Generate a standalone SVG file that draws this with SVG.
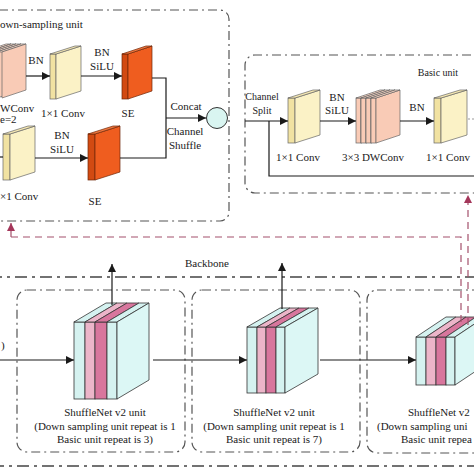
<svg xmlns="http://www.w3.org/2000/svg" width="474" height="474" viewBox="0 0 474 474">
<style>
text{font-family:"Liberation Serif","Times New Roman",serif;fill:#1a1a1a;font-size:11px}
.mid{text-anchor:middle}
.sm{font-size:10px}
.frame{fill:none;stroke:#555;stroke-width:1.2;stroke-dasharray:9 4 2 4}
.outer{fill:none;stroke:#444;stroke-width:1.3;stroke-dasharray:12 5 3 5}
.ln{fill:none;stroke:#1a1a1a;stroke-width:1.2}
.red{fill:none;stroke:#a4506c;stroke-width:1.2;stroke-dasharray:7 5}
.yf{fill:#f1e2a2;stroke:#666;stroke-width:0.7}
.ys{fill:#fbf2c6;stroke:#666;stroke-width:0.7}
.yt{fill:#f7eab4;stroke:#666;stroke-width:0.7}
.of{fill:#d24a12;stroke:#6e2608;stroke-width:0.7}
.os{fill:#ef5d1f;stroke:#6e2608;stroke-width:0.7}
.ot{fill:#f2793f;stroke:#6e2608;stroke-width:0.7}
.pk{fill:#f9cbb6;stroke:#666;stroke-width:0.7}
.pt{fill:#fbd8c7;stroke:#666;stroke-width:0.7}
.cy{fill:#d5f2f0;stroke:#333;stroke-width:0.8}
.cs{fill:#dcf7f5;stroke:#333;stroke-width:0.8}
.lp{fill:#ecb5c9;stroke:#333;stroke-width:0.8}
.dp{fill:#d8769d;stroke:#333;stroke-width:0.8}
</style>
<defs>
<marker id="arr" markerUnits="userSpaceOnUse" markerWidth="9" markerHeight="8" refX="8" refY="4" orient="auto"><path d="M0,0 L8,4 L0,8 z" fill="#1a1a1a"/></marker>
<marker id="arrm" markerUnits="userSpaceOnUse" markerWidth="9" markerHeight="8" refX="8" refY="4" orient="auto"><path d="M0,0 L8,4 L0,8 z" fill="#a4365a"/></marker>
</defs>

<g id="downsampling-unit">
<path class="frame" d="M-20 10 H220 A9 9 0 0 1 229 19 V212 A9 9 0 0 1 220 221 H-20"/>
<text x="0" y="28">own-sampling unit</text>
</g>

<g id="dwconv-stride2">
<polygon class="pt" points="-18,52 -13,52 11,44 6,44"/><polygon class="pk" points="-13,52 11,44 11,90 -13,98"/>
<polygon class="pt" points="-13,52 -8,52 16,44 11,44"/><polygon class="pk" points="-8,52 16,44 16,90 -8,98"/>
<polygon class="pt" points="-8,52 -3,52 21,44 16,44"/><polygon class="pk" points="-3,52 21,44 21,90 -3,98"/>
<polygon class="pt" points="-3,52 2,52 26,44 21,44"/><polygon class="pk" points="2,52 26,44 26,90 2,98"/>
<text x="0" y="112">WConv</text>
<text x="0" y="123">e=2</text>
</g>

<g id="ds-conv1">
<rect class="yf" x="50" y="54" width="6" height="45"/>
<polygon class="ys" points="56,54 81,46 81,91 56,99"/>
<polygon class="yt" points="50,54 56,54 81,46 75,46"/>
<text class="mid" x="63" y="117">1×1 Conv</text>
</g>

<g id="ds-se1">
<rect class="of" x="122" y="54" width="6" height="45"/>
<polygon class="os" points="128,54 152,46 152,91 128,99"/>
<polygon class="ot" points="122,54 128,54 152,46 146,46"/>
<text class="mid" x="128" y="117">SE</text>
</g>

<g id="ds-conv2">
<rect class="yf" x="3" y="134" width="7" height="46"/>
<polygon class="ys" points="10,134 35,126 35,172 10,180"/>
<polygon class="yt" points="3,134 10,134 35,126 28,126"/>
<text x="0" y="200">×1 Conv</text>
</g>

<g id="ds-se2">
<rect class="of" x="88" y="134" width="7" height="46"/>
<polygon class="os" points="95,134 120,126 120,172 95,180"/>
<polygon class="ot" points="88,134 95,134 120,126 113,126"/>
<text class="mid" x="95" y="205">SE</text>
</g>

<g id="concat-node">
<circle cx="217" cy="118" r="10.5" fill="#d9f5f1" stroke="#333" stroke-width="1"/>
</g>

<g id="basic-unit">
<path class="frame" d="M490 55 H255 A10 10 0 0 0 245 65 V183 A10 10 0 0 0 255 193 H490"/>
<text class="mid sm" x="438" y="76">Basic unit</text>
</g>

<g id="bu-conv1">
<rect class="yf" x="288" y="98" width="7" height="45"/>
<polygon class="ys" points="295,98 320,90 320,135 295,143"/>
<polygon class="yt" points="288,98 295,98 320,90 313,90"/>
<text class="mid" x="298" y="161">1×1 Conv</text>
</g>

<g id="bu-dwconv">
<rect class="pk" x="356" y="98" width="5" height="45"/><polygon class="pk" points="361,98 385,90 385,135 361,143"/><polygon class="pt" points="356,98 361,98 385,90 380,90"/>
<rect class="pk" x="361" y="98" width="5" height="45"/><polygon class="pk" points="366,98 390,90 390,135 366,143"/><polygon class="pt" points="361,98 366,98 390,90 385,90"/>
<rect class="pk" x="366" y="98" width="5" height="45"/><polygon class="pk" points="371,98 395,90 395,135 371,143"/><polygon class="pt" points="366,98 371,98 395,90 390,90"/>
<rect class="pk" x="371" y="98" width="5" height="45"/><polygon class="pk" points="376,98 400,90 400,135 376,143"/><polygon class="pt" points="371,98 376,98 400,90 395,90"/>
<text class="mid" x="373" y="161">3×3 DWConv</text>
</g>

<g id="bu-conv2">
<rect class="yf" x="434" y="98" width="7" height="45"/>
<polygon class="ys" points="441,98 467,90 467,135 441,143"/>
<polygon class="yt" points="434,98 441,98 467,90 460,90"/>
<text class="mid" x="448" y="161">1×1 Conv</text>
</g>

<g id="backbone">
<rect class="outer" x="-10" y="277" width="500" height="189"/>
<text class="mid" x="207" y="267">Backbone</text>
</g>

<g id="unit1">
<rect class="frame" x="17" y="290" width="168" height="162" rx="10"/>
<rect class="cy" x="74" y="322" width="11" height="77"/>
<rect class="lp" x="85" y="322" width="10" height="77"/>
<rect class="dp" x="95" y="322" width="12" height="77"/>
<rect class="cy" x="107" y="322" width="10" height="77"/>
<polygon class="cy" points="74,322 85,322 117,303 106,303"/>
<polygon class="lp" points="85,322 95,322 127,303 117,303"/>
<polygon class="dp" points="95,322 107,322 139,303 127,303"/>
<polygon class="cy" points="107,322 117,322 149,303 139,303"/>
<polygon class="cs" points="117,322 149,303 149,380 117,399"/>
<text class="mid" x="105" y="416">ShuffleNet v2 unit</text>
<text class="mid" x="105" y="430">(Down sampling unit repeat is 1</text>
<text class="mid" x="105" y="443">Basic unit repeat is 3)</text>
</g>

<g id="unit2">
<rect class="frame" x="192" y="290" width="168" height="162" rx="10"/>
<rect class="cy" x="247" y="327" width="10" height="66"/>
<rect class="lp" x="257" y="327" width="9" height="66"/>
<rect class="dp" x="266" y="327" width="10" height="66"/>
<rect class="cy" x="276" y="327" width="9" height="66"/>
<polygon class="cy" points="247,327 257,327 290,308 280,308"/>
<polygon class="lp" points="257,327 266,327 299,308 290,308"/>
<polygon class="dp" points="266,327 276,327 309,308 299,308"/>
<polygon class="cy" points="276,327 285,327 318,308 309,308"/>
<polygon class="cs" points="285,327 318,308 318,374 285,393"/>
<text class="mid" x="274" y="416">ShuffleNet v2 unit</text>
<text class="mid" x="274" y="430">(Down sampling unit repeat is 1</text>
<text class="mid" x="274" y="443">Basic unit repeat is 7)</text>
</g>

<g id="unit3">
<rect class="frame" x="367" y="290" width="140" height="163" rx="10"/>
<rect class="cy" x="416" y="337" width="10" height="48"/>
<rect class="lp" x="426" y="337" width="10" height="48"/>
<rect class="dp" x="436" y="337" width="10" height="48"/>
<rect class="cy" x="446" y="337" width="9" height="48"/>
<polygon class="cy" points="416,337 426,337 456,317 446,317"/>
<polygon class="lp" points="426,337 436,337 466,317 456,317"/>
<polygon class="dp" points="436,337 446,337 476,317 466,317"/>
<polygon class="cy" points="446,337 455,337 485,317 476,317"/>
<polygon class="cs" points="455,337 485,317 485,365 455,385"/>
<text x="408" y="416">ShuffleNet v2</text>
<text x="377" y="430">(Down sampling uni</text>
<text x="401" y="443">Basic unit repea</text>
</g>

<g id="connectors">
<line class="ln" x1="26" y1="76" x2="50" y2="76" marker-end="url(#arr)"/>
<text class="mid" x="36" y="64">BN</text>
<line class="ln" x1="81" y1="76" x2="122" y2="76" marker-end="url(#arr)"/>
<text class="mid" x="102" y="56">BN</text>
<text class="mid" x="102" y="70">SiLU</text>
<polyline class="ln" points="152,78 166,78 166,158 120,158"/>
<line class="ln" x1="0" y1="157" x2="3" y2="157"/>
<line class="ln" x1="35" y1="158" x2="88" y2="158" marker-end="url(#arr)"/>
<text class="mid" x="62" y="139">BN</text>
<text class="mid" x="62" y="153">SiLU</text>
<line class="ln" x1="166" y1="118" x2="206" y2="118" marker-end="url(#arr)"/>
<text class="mid" x="186" y="110">Concat</text>
<text class="mid" x="185" y="135">Channel</text>
<text class="mid" x="185" y="149">Shuffle</text>

<text class="mid sm" x="262" y="100">Channel</text>
<text class="mid sm" x="262" y="114">Split</text>
<line class="ln" x1="245" y1="121" x2="288" y2="121" marker-end="url(#arr)"/>
<line class="ln" x1="320" y1="121" x2="356" y2="121" marker-end="url(#arr)"/>
<text class="mid" x="337" y="101">BN</text>
<text class="mid" x="337" y="114">SiLU</text>
<line class="ln" x1="400" y1="121" x2="434" y2="121" marker-end="url(#arr)"/>
<text class="mid" x="417" y="111">BN</text>
<line x1="468" y1="119" x2="474" y2="119" stroke="#999" stroke-width="1" stroke-dasharray="2 2"/>
<polyline class="ln" points="269,121 269,176 480,176"/>

<line class="ln" x1="0" y1="360" x2="74" y2="360" marker-end="url(#arr)"/>
<text x="1" y="349">)</text>
<line class="ln" x1="112" y1="305" x2="112" y2="264" marker-end="url(#arr)"/>
<line class="ln" x1="153" y1="360" x2="247" y2="360" marker-end="url(#arr)"/>
<line class="ln" x1="282" y1="309" x2="282" y2="263" marker-end="url(#arr)"/>
<line class="ln" x1="320" y1="360" x2="416" y2="360" marker-end="url(#arr)"/>

<line class="red" x1="11" y1="237" x2="11" y2="223" stroke-dasharray="none" marker-end="url(#arrm)"/>
<polyline class="red" points="11,237 461,237 461,325"/>
<line class="red" x1="468" y1="325" x2="468" y2="195" marker-end="url(#arrm)"/>
</g>
</svg>
